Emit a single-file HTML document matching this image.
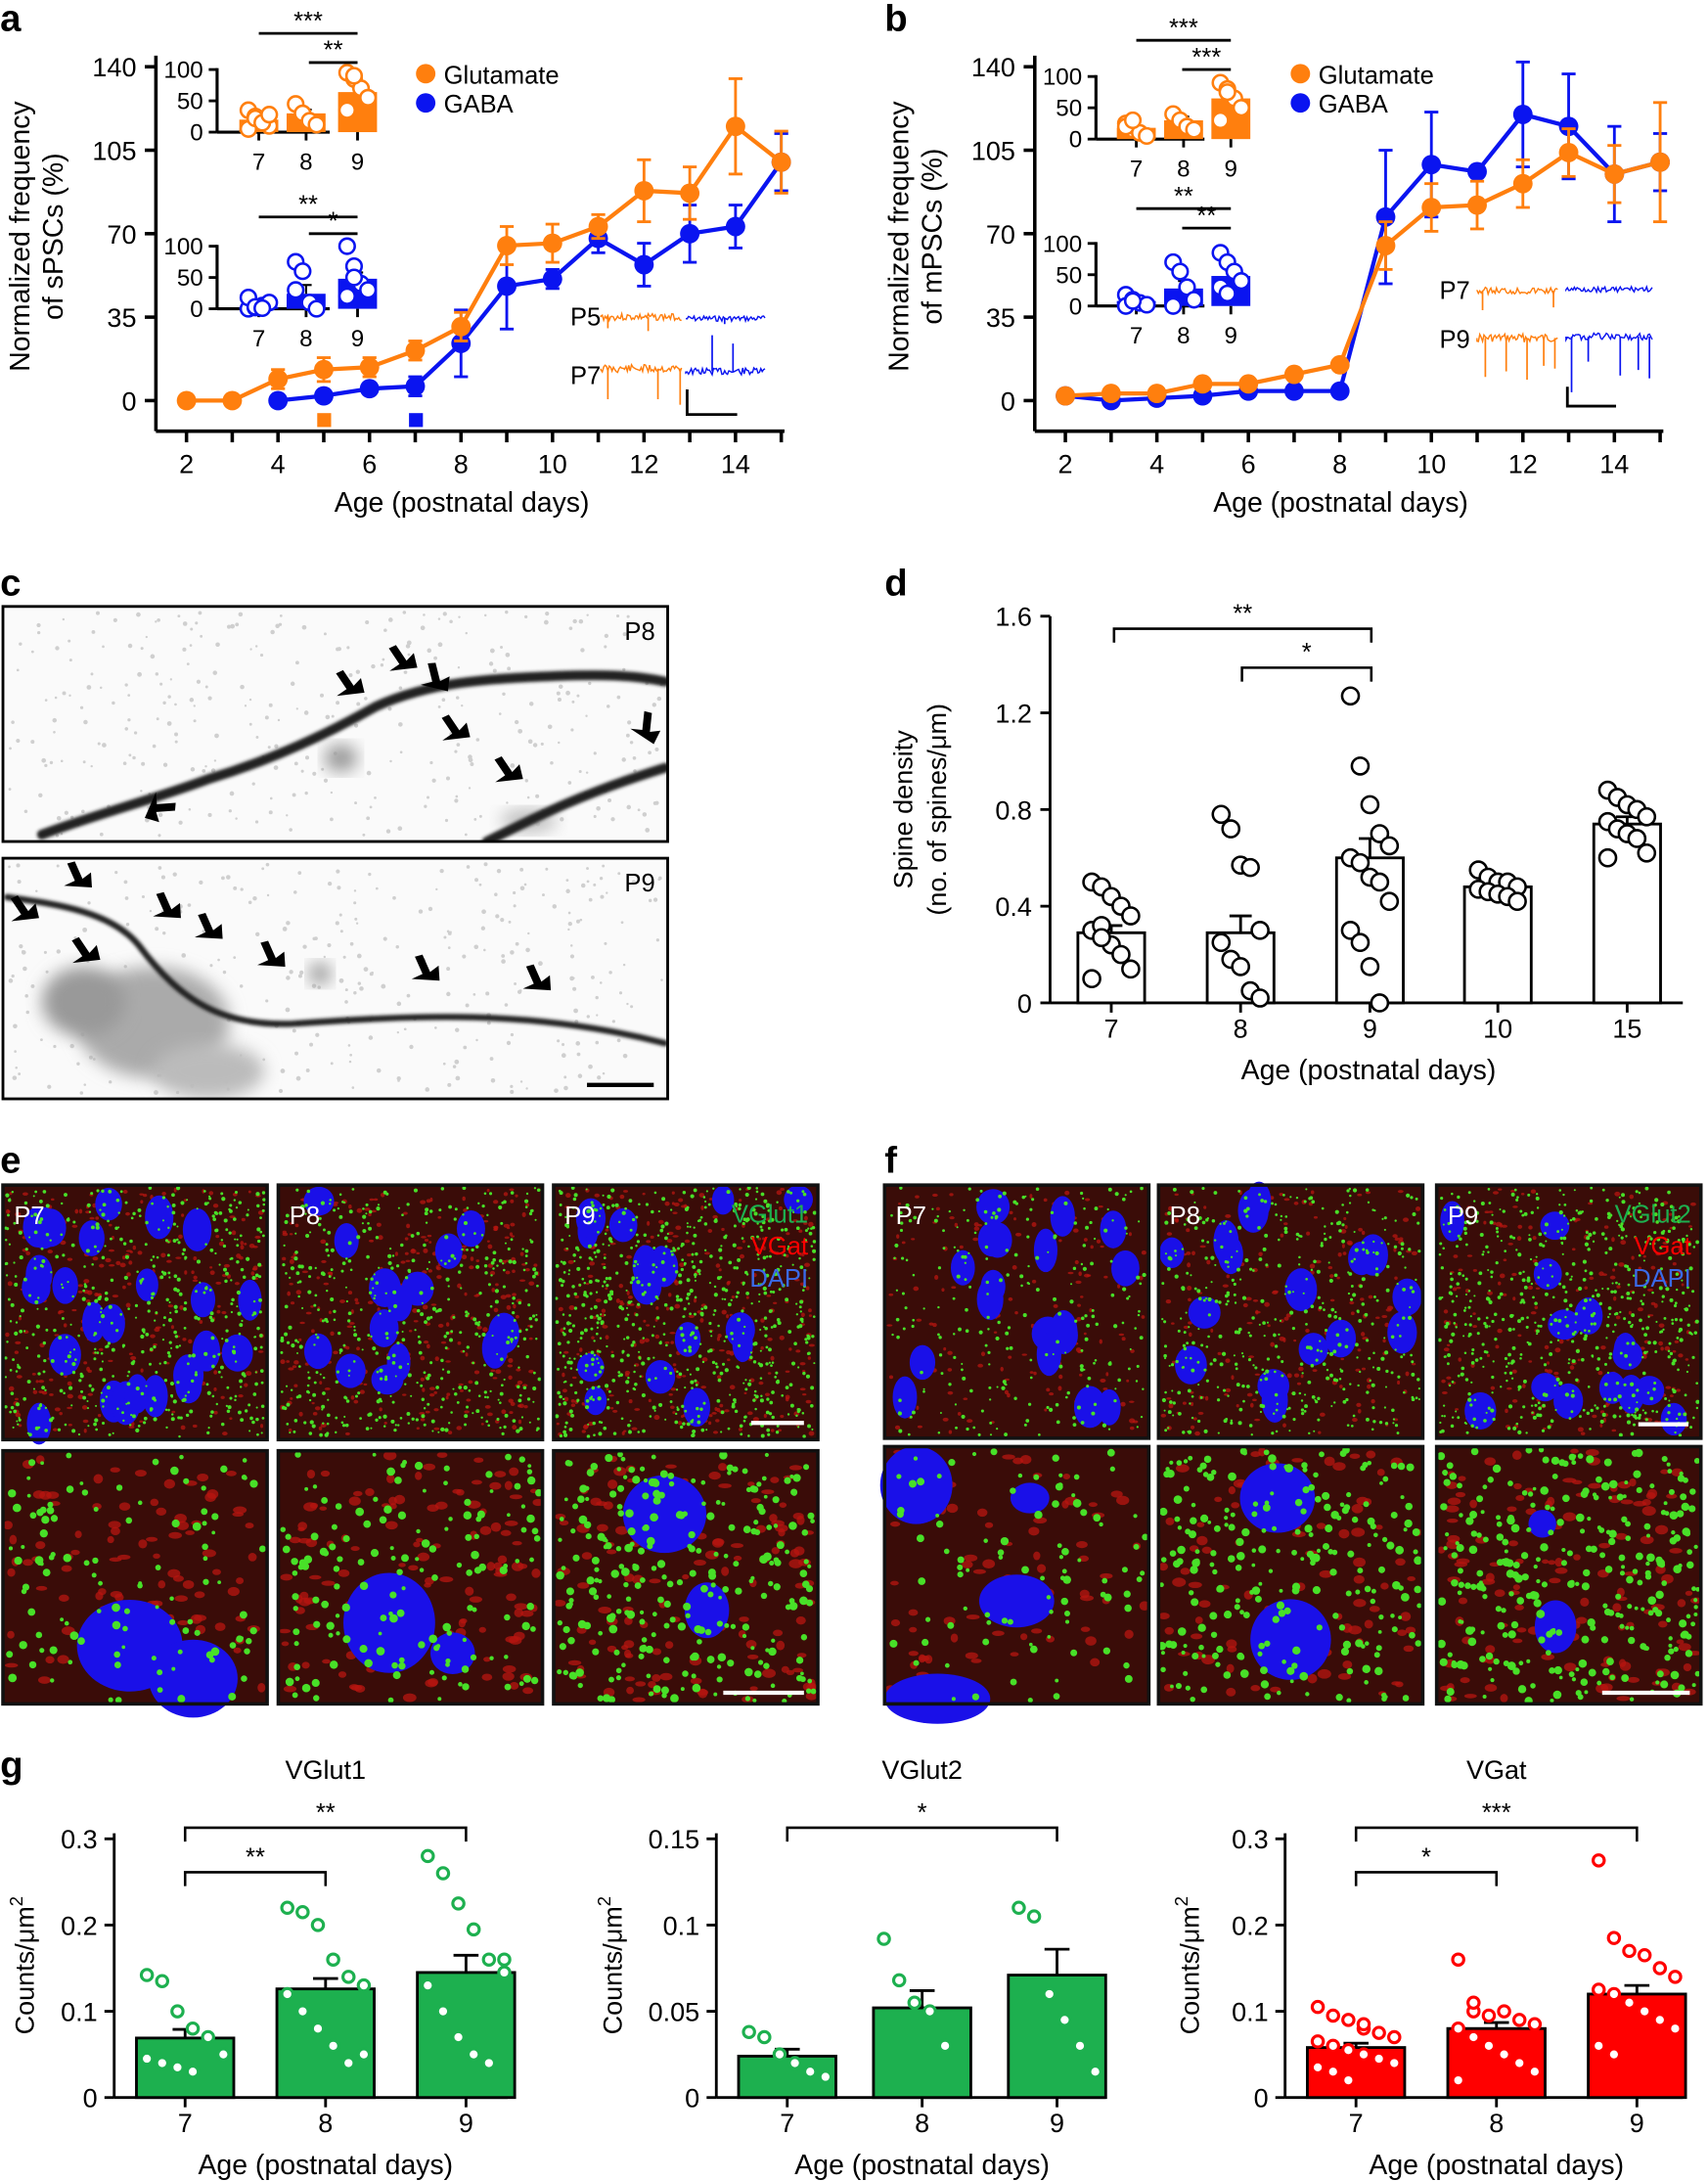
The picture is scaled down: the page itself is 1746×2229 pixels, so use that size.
<!DOCTYPE html>
<html><head><meta charset="utf-8"><style>
html,body{margin:0;padding:0;background:#fff}
svg{display:block}
text{font-family:"Liberation Sans",Arial,sans-serif}
</style></head><body>
<svg id="fig" xmlns="http://www.w3.org/2000/svg" width="1746" height="2229" viewBox="0 0 1228 1568">
<defs>
<filter id="blur1" x="-20%" y="-20%" width="140%" height="140%"><feGaussianBlur stdDeviation="1.2"/></filter>
<filter id="blur2" x="-20%" y="-20%" width="140%" height="140%"><feGaussianBlur stdDeviation="6"/></filter>
</defs>
<g font-weight="bold" font-size="27" fill="#000">
<text x="0" y="22">a</text>
<text x="636" y="22">b</text>
<text x="0" y="428">c</text>
<text x="636" y="428">d</text>
<text x="0" y="843">e</text>
<text x="636" y="843">f</text>
<text x="0" y="1278">g</text>
</g>
</svg>
<script>
// ---------- data ----------
const days = [2,3,4,5,6,7,8,9,10,11,12,13,14,15];
const aGlu = [0,0,9,13,14,21,31,65,66,73,88,87,115,100];
const aGluErr = [0,0,4,5,4,4,6,8,8,5,13,11,20,13];
const aGabaDays = [4,5,6,7,8,9,10,11,12,13,14,15];
const aGaba = [0,2,5,6,24,48,51,68,57,70,73,100];
const aGabaErr = [0,0,0,4,14,18,4,6,9,12,9,12];
const bGlu = [2,3,3,7,7,11,15,65,81,82,91,104,95,100];
const bGluErr = [0,0,0,2,1,1,2,10,10,10,10,10,12,25];
const bGabaDays = [2,3,4,5,6,7,8,9,10,11,12,13,14,15];
const bGaba = [2,0,1,2,4,4,4,77,99,96,120,115,95,100];
const bGabaErr = [0,0,0,0,0,0,0,28,22,0,22,22,20,12];
const yTicksA = [0,35,70,105,140];
const xTicksA = [2,4,6,8,10,12,14];
const insetCats = [7,8,9];
const insetTicks = [0,50,100];
const aInsGlu = [20,30,64]; const aInsGluErr=[4,6,8];
const aInsGluPts = [[35,25,18,10,5,22,15,28],[45,30,18,12],[95,85,70,55,35,90]];
const aInsGaba = [3,24,48]; const aInsGabaErr=[2,14,10];
const aInsGabaPts = [[0,2,5,10,18,3,1],[75,60,10,0,30],[100,68,40,30,20,50]];
const bInsGlu = [18,30,65]; const bInsGluErr=[4,6,8];
const bInsGluPts = [[25,15,10,5,20,30],[40,30,20,15],[90,80,65,50,30,75]];
const bInsGaba = [8,28,48]; const bInsGabaErr=[3,12,8];
const bInsGabaPts = [[18,10,5,2,0,8],[70,55,30,10,0],[85,70,55,40,30,20]];
const dCats = ['7','8','9','10','15'];
const dMeans = [0.29,0.29,0.60,0.48,0.74];
const dErr = [0.03,0.07,0.08,0.02,0.03];
const dPts = [[0.5,0.48,0.44,0.4,0.36,0.3,0.32,0.24,0.2,0.14,0.1,0.27],[0.78,0.72,0.57,0.56,0.3,0.25,0.18,0.15,0.05,0.02],[1.27,0.98,0.82,0.7,0.65,0.6,0.58,0.52,0.5,0.42,0.3,0.25,0.15,0.0],[0.55,0.52,0.5,0.5,0.48,0.47,0.46,0.45,0.44,0.42],[0.88,0.85,0.82,0.8,0.77,0.75,0.72,0.7,0.68,0.62,0.6]];
const dTicks = [0,0.4,0.8,1.2,1.6];
const gCats = ['7','8','9'];
const g1Means=[0.069,0.126,0.145], g1Err=[0.01,0.012,0.02];
const g1Pts=[[0.142,0.135,0.1,0.08,0.07,0.05,0.045,0.04,0.035,0.03],[0.22,0.215,0.2,0.16,0.14,0.13,0.12,0.1,0.08,0.06,0.04,0.05],[0.28,0.26,0.225,0.195,0.16,0.145,0.13,0.1,0.07,0.05,0.04,0.16]];
const g2Means=[0.024,0.052,0.071], g2Err=[0.004,0.01,0.015];
const g2Pts=[[0.038,0.035,0.025,0.02,0.015,0.012],[0.092,0.068,0.055,0.05,0.03],[0.11,0.105,0.06,0.045,0.03,0.015]];
const g3Means=[0.058,0.08,0.12], g3Err=[0.005,0.007,0.01];
const g3Pts=[[0.105,0.095,0.09,0.08,0.075,0.07,0.065,0.06,0.055,0.05,0.045,0.04,0.035,0.03,0.02,0.085],[0.16,0.1,0.095,0.1,0.09,0.085,0.08,0.07,0.06,0.05,0.04,0.03,0.02,0.11],[0.275,0.185,0.17,0.165,0.15,0.14,0.125,0.12,0.11,0.1,0.09,0.08,0.06,0.05]];
const g1Ticks=[0,0.1,0.2,0.3], g2Ticks=[0,0.05,0.1,0.15];
const g2TickLbl=['0','0.05','0.1','0.15'];

const OR='#ff7f0e', BL='#0a14f0', GR='#1db04f', RD='#ff0000';
const svg=document.getElementById('fig');
const NS='http://www.w3.org/2000/svg';
function mk(tag,attrs,parent,txt){const e=document.createElementNS(NS,tag);for(const k in attrs)e.setAttribute(k,attrs[k]);if(txt!==undefined)e.textContent=txt;(parent||svg).appendChild(e);return e;}
function grp(name){const g=mk('g',{});return g;}
function line(p,x1,y1,x2,y2,c,w,name){const e=mk('line',{x1,y1,x2,y2,stroke:c||'#000','stroke-width':w||2},p);

return e;}
function txt(p,x,y,s,size,anchor,name,fill){const e=mk('text',{x,y,'font-size':size,'text-anchor':anchor||'middle',fill:fill||'#000'},p,s);

return e;}

// ---------- line chart a/b ----------
function lineChart(name,X0,gluX,glu,gluE,gabaX,gaba,gabaE,legendX,title){
  const g=grp(name);
  const sx=d=>X0+(d-2)*32.9, sy=v=>288-v*60/35;
  line(g,X0-22,310,X0-22+452,310,'#000',2.5,'x-axis');
  line(g,X0-22,40,X0-22,310,'#000',2.5,'y-axis');
  yTicksA.forEach(t=>{line(g,X0-30,sy(t),X0-22,sy(t),'#000',2.5,'y-tick');txt(g,X0-36,sy(t)+7,String(t),19,'end','y-tick-label');});
  for(let d=2;d<=15;d++){line(g,sx(d),310,sx(d),318,'#000',2.5,'x-tick');}
  xTicksA.forEach(t=>txt(g,sx(t),340,String(t),19,'middle','x-tick-label'));
  txt(g,X0+198,368,'Age (postnatal days)',20,'middle','x-axis-title');
  const yt=txt(g,0,0,'Normalized frequency',20,'middle','y-axis-title');yt.setAttribute('transform',`translate(${X0-113},170) rotate(-90)`);
  const yt2=txt(g,0,0,title,20,'middle','y-axis-title-2');yt2.setAttribute('transform',`translate(${X0-89},170) rotate(-90)`);
  function series(xs,vals,errs,c,nm){
    xs.forEach((d,i)=>{if(errs[i]>0){const x=sx(d);line(g,x,sy(vals[i]-errs[i]),x,sy(vals[i]+errs[i]),c,2,nm+'-errorbar');line(g,x-5,sy(vals[i]+errs[i]),x+5,sy(vals[i]+errs[i]),c,2,nm+'-errorcap');line(g,x-5,sy(vals[i]-errs[i]),x+5,sy(vals[i]-errs[i]),c,2,nm+'-errorcap');}});
    const pl=mk('polyline',{points:xs.map((d,i)=>sx(d)+','+sy(vals[i])).join(' '),fill:'none',stroke:c,'stroke-width':3},g);
    
    
    xs.forEach((d,i)=>{const c1=mk('circle',{cx:sx(d),cy:sy(vals[i]),r:7,fill:c},g);
      
      });
  }
  series(gabaX,gaba,gabaE,BL,'gaba');
  series(gluX,glu,gluE,OR,'glutamate');
  const l1=mk('circle',{cx:legendX,cy:53,r:7,fill:OR},g);
  
  
  txt(g,legendX+13,60,'Glutamate',18,'start','legend-glutamate');
  const l2=mk('circle',{cx:legendX,cy:74,r:7,fill:BL},g);
  
  
  txt(g,legendX+13,81,'GABA',18,'start','legend-gaba');
  return {g,sx,sy};
}
function inset(p,name,ax,y0,vals,errs,pts,c,cx){
  const g=mk('g',{},p);
  const sy=v=>y0-v*0.45;
  line(g,ax,y0-46,ax,y0,'#000',2.2,'inset-y-axis');line(g,ax,y0,ax+82+(cx[2]-cx[0]-72),y0,'#000',2.2,'inset-x-axis');
  insetTicks.forEach(t=>{line(g,ax-6,sy(t),ax,sy(t),'#000',2,'inset-y-tick');txt(g,ax-10,sy(t)+6,String(t),17,'end','inset-y-tick-label');});
  insetCats.forEach((k,i)=>{
    const r=mk('rect',{x:cx[i]-14,y:sy(vals[i]),width:28,height:y0-sy(vals[i]),fill:c},g);
    
    
    line(g,cx[i],sy(vals[i]),cx[i],sy(vals[i]+errs[i]),'#000',1.5,'inset-errorbar');line(g,cx[i]-4,sy(vals[i]+errs[i]),cx[i]+4,sy(vals[i]+errs[i]),'#000',1.5,'inset-errorcap');
    line(g,cx[i],y0,cx[i],y0+6,'#000',2,'inset-x-tick');
    txt(g,cx[i],y0+27,String(k),17,'middle','inset-x-tick-label');
    pts[i].forEach((v,j)=>{const o=mk('circle',{cx:cx[i]+((j%4)-1.5)*5,cy:sy(v),r:5.5,fill:'#fff',stroke:c,'stroke-width':1.8},g);
      
      });
  });
}
function sig(p,x1,x2,y,s,size){line(p,x1,y,x2,y,'#000',2,'significance-bar');txt(p,(x1+x2)/2,y-3,s,size||18,'middle','significance-stars');}
function sigBracket(p,x1,x2,y,s){const pl=mk('polyline',{points:`${x1},${y+10} ${x1},${y} ${x2},${y} ${x2},${y+10}`,fill:'none',stroke:'#000','stroke-width':1.8},p);
  
  
  txt(p,(x1+x2)/2,y-5,s,18,'middle','significance-stars');}
function trace(p,x1,x2,y,c,amp,spikes,seed,name){let s=seed;const rnd=()=>{s=(s*9301+49297)%233280;return s/233280;};
  let d=`M${x1},${y}`;for(let x=x1;x<=x2;x+=1){let yy=y+(rnd()-0.5)*amp;d+=` L${x},${yy.toFixed(1)}`;}
  const e=mk('path',{d,fill:'none',stroke:c,'stroke-width':1},p);
  
  
  spikes.forEach(sp=>line(p,sp[0],y,sp[0],y+sp[1],c,1.2,name+'-event'));}

const A=lineChart('panel-a-frequency-chart',134,days,aGlu,aGluErr,aGabaDays,aGaba,aGabaErr,306,'of sPSCs (%)');
inset(A.g,'panel-a-inset-glutamate',156,95,aInsGlu,aInsGluErr,aInsGluPts,OR,[186,220,257]);
inset(A.g,'panel-a-inset-gaba',156,222,aInsGaba,aInsGabaErr,aInsGabaPts,BL,[186,220,257]);
sig(A.g,186,257,24,'***');sig(A.g,222,257,45,'**');sig(A.g,186,257,156,'**');sig(A.g,222,257,168,'*');
{const r=mk('rect',{x:228,y:297,width:10,height:10,fill:OR},A.g);
 const r2=mk('rect',{x:294,y:297,width:10,height:10,fill:BL},A.g);}
txt(A.g,410,234,'P5',18,'start','trace-label-p5');txt(A.g,410,276,'P7',18,'start','trace-label-p7');
trace(A.g,432,490,228,OR,5,[[437,8],[466,10]],3,'trace-p5-glutamate');
trace(A.g,493,550,229,BL,4,[[521,4]],7,'trace-p5-gaba');
trace(A.g,432,490,265,OR,6,[[437,22],[473,22],[489,26]],11,'trace-p7-glutamate');
trace(A.g,493,550,267,BL,5,[[512,-26],[527,-20]],13,'trace-p7-gaba');
{const pl=mk('polyline',{points:'494,280 494,298 530,298',fill:'none',stroke:'#000','stroke-width':2},A.g);}

const B=lineChart('panel-b-frequency-chart',766,days,bGlu,bGluErr,bGabaDays,bGaba,bGabaErr,935,'of mPSCs (%)');
inset(B.g,'panel-b-inset-glutamate',788,100,bInsGlu,bInsGluErr,bInsGluPts,OR,[817,851,885]);
inset(B.g,'panel-b-inset-gaba',788,220,bInsGaba,bInsGabaErr,bInsGabaPts,BL,[817,851,885]);
sig(B.g,817,885,29,'***');sig(B.g,850,885,50,'***');sig(B.g,817,885,150,'**');sig(B.g,850,885,164,'**');
txt(B.g,1035,215,'P7',18,'start','trace-label-p7');txt(B.g,1035,250,'P9',18,'start','trace-label-p9');
trace(B.g,1062,1120,209,OR,5,[[1066,14],[1117,12]],5,'trace-p7-glutamate');
trace(B.g,1126,1188,208,BL,4,[],9,'trace-p7-gaba');
trace(B.g,1062,1120,243,OR,6,[[1068,28],[1083,24],[1098,30],[1110,20],[1118,22]],17,'trace-p9-glutamate');
trace(B.g,1126,1188,242,BL,5,[[1130,40],[1142,18],[1165,28],[1178,24],[1186,30]],19,'trace-p9-gaba');
{const pl=mk('polyline',{points:'1127,278 1127,292 1162,292',fill:'none',stroke:'#000','stroke-width':2},B.g);}

// ---------- panel c images ----------
function dendriteImg(name,x,y,w,h,blobs,paths,arrows,lbl,scale){
  const g=grp(name);
  const cp=mk('clipPath',{id:'clip'+y},g);
  mk('rect',{x,y,width:w,height:h},cp);
  const r=mk('rect',{x,y,width:w,height:h,fill:'#fafafa'},g);
  
  const inner=mk('g',{'clip-path':`url(#clip${y})`},g);
  let s=x*7+y;const rnd=()=>{s=(s*9301+49297)%233280;return s/233280;};
  for(let i=0;i<320;i++){const c=mk('circle',{cx:x+4+rnd()*(w-8),cy:y+4+rnd()*(h-8),r:0.8+rnd()*0.9,fill:'#cfcfcf'},inner);}
  blobs.forEach(b=>{const e=mk('ellipse',{cx:b[0],cy:b[1],rx:b[2],ry:b[3],fill:b[4],filter:'url(#blur2)'},inner);});
  paths.forEach(p=>{const e=mk('path',{d:p[0],fill:'none',stroke:p[2]||'#222','stroke-width':p[1],'stroke-linecap':'round',filter:'url(#blur1)'},inner);});
  arrows.forEach(a=>{const e=mk('path',{d:'M0,0 L18,-9 L13,-2 L24,6 L20,10 L9,2 L6,9 Z',fill:'#000',transform:`translate(${a[0]},${a[1]}) rotate(${a[2]})`},g);});
  const fr=mk('rect',{x,y,width:w,height:h,fill:'none',stroke:'#000','stroke-width':2},g);
  
  txt(g,x+w-9,y+24,lbl,18,'end','age-label');
  if(scale){line(g,x+w-58,y+h-10,x+w-10,y+h-10,'#000',3,'scale-bar');}
}
dendriteImg('panel-c-image-p8',2,436,478,169,[[245,545,12,10,'#999'],[380,590,20,8,'#bbb']],
 [['M30,600 C70,585 110,575 150,560 C200,545 240,525 270,508 C310,490 350,488 400,486 C430,485 455,485 478,490',7],['M350,605 C390,585 420,570 478,552',7]],
 [[262,498,-160],[322,497,-140],[300,480,200],[338,530,-160],[376,560,-160],[470,535,-120],[104,588,-40]],'P8',false);
dendriteImg('panel-c-image-p9',2,617,478,173,[[110,735,55,40,'#aaa'],[60,720,30,25,'#999'],[150,770,40,20,'#bbb'],[230,700,8,8,'#999']],
 [['M5,645 C40,650 80,655 100,680 C130,720 160,738 210,736 C300,730 380,725 478,750',4.5]],
 [[28,660,-160],[66,638,-150],[72,690,-160],[130,660,-150],[160,675,-150],[205,695,-150],[316,705,-150],[396,712,-150]],'P9',true);

// ---------- panels e/f microscopy ----------
function micro(name,x,y,w,h,seed,nuclei,greenN,redN,big,lbl){
  const g=grp(name);
  const r=mk('rect',{x,y,width:w,height:h,fill:'#3a0c08'},g);
  
  let s=seed;const rnd=()=>{s=(s*9301+49297)%233280;return s/233280;};
  for(let i=0;i<redN;i++){const e=mk('ellipse',{cx:x+3+rnd()*(w-6),cy:y+3+rnd()*(h-6),rx:(big?2.5:1)+rnd()*(big?2.5:1.2),ry:(big?1.5:0.8)+rnd()*(big?2:1),fill:'#b81510',opacity:0.75},g);}
  nuclei.forEach(n=>{const e=mk('ellipse',{cx:x+n[0]*w,cy:y+n[1]*h,rx:n[2],ry:n[3],fill:'#1a10e8'},g);});
  for(let i=0;i<greenN;i++){const e=mk('circle',{cx:x+2+rnd()*(w-4),cy:y+2+rnd()*(h-4),r:(big?1.3:0.7)+rnd()*(big?1.8:0.8),fill:'#48e028'},g);}
  const fr=mk('rect',{x,y,width:w,height:h,fill:'none',stroke:'#111','stroke-width':2.5},g);
  
  if(lbl)txt(g,x+8,y+28,lbl,18,'start','age-label','#fff');
  return g;
}
function nucs(seed,n,rx,ry){let s=seed;const rnd=()=>{s=(s*9301+49297)%233280;return s/233280;};const a=[];for(let i=0;i<n;i++)a.push([0.05+rnd()*0.9,0.05+rnd()*0.9,rx+rnd()*4,ry+rnd()*5]);return a;}
const eX=[2,200,398], fX=[636,833,1033];
micro('panel-e-p7-overview',eX[0],852,190,183,11,nucs(5,26,8,11),520,260,false,'P7');
micro('panel-e-p8-overview',eX[1],852,190,183,21,nucs(8,14,8,10),480,300,false,'P8');
const e9=micro('panel-e-p9-overview',eX[2],852,190,183,31,nucs(13,16,7,10),700,300,false,'P9');
txt(e9,581,879,'VGlut1',18,'end','legend-vglut1',GR);txt(e9,581,902,'VGat',18,'end','legend-vgat',RD);txt(e9,581,925,'DAPI',18,'end','legend-dapi','#3a6ae8');
line(e9,540,1023,578,1023,'#fff',3,'scale-bar');
micro('panel-e-p7-zoom',eX[0],1043,190,182,41,[[0.48,0.77,38,33],[0.72,0.9,32,28]],110,110,true);
micro('panel-e-p8-zoom',eX[1],1043,190,182,51,[[0.42,0.68,33,36],[0.66,0.8,16,15]],150,130,true);
const e9z=micro('panel-e-p9-zoom',eX[2],1043,190,182,61,[[0.42,0.25,30,28],[0.58,0.63,16,20]],260,130,true);
line(e9z,520,1217,578,1217,'#fff',3,'scale-bar');
micro('panel-f-p7-overview',fX[0],852,190,182,71,nucs(17,18,8,11),240,140,false,'P7');
micro('panel-f-p8-overview',fX[1],852,190,182,81,nucs(19,16,8,11),440,200,false,'P8');
const f9=micro('panel-f-p9-overview',fX[2],852,190,182,91,nucs(23,14,8,10),600,200,false,'P9');
txt(f9,1216,879,'VGlut2',18,'end','legend-vglut2',GR);txt(f9,1216,902,'VGat',18,'end','legend-vgat',RD);txt(f9,1216,925,'DAPI',18,'end','legend-dapi','#3a6ae8');
line(f9,1178,1024,1214,1024,'#fff',3,'scale-bar');
micro('panel-f-p7-zoom',fX[0],1040,190,185,101,[[0.12,0.15,26,28],[0.55,0.2,14,11],[0.5,0.6,27,19],[0.2,0.98,38,18]],90,70,true);
micro('panel-f-p8-zoom',fX[1],1040,190,185,111,[[0.45,0.2,27,25],[0.5,0.75,29,29]],230,90,true);
const f9z=micro('panel-f-p9-zoom',fX[2],1040,190,185,121,[[0.45,0.7,15,19],[0.4,0.3,10,10]],290,130,true);
line(f9z,1152,1217,1215,1217,'#fff',3,'scale-bar');

// ---------- panel d ----------
{const g=grp('panel-d-spine-density-chart');
 const X=[799,892,985,1077,1170], sy=v=>721-v*173.75;
 line(g,755,721,1210,721,'#000',2,'x-axis');line(g,755,443,755,721,'#000',2,'y-axis');
 dTicks.forEach(t=>{line(g,748,sy(t),755,sy(t),'#000',2,'y-tick');txt(g,742,sy(t)+7,String(t),19,'end','y-tick-label');});
 dCats.forEach((c,i)=>{
   const r=mk('rect',{x:X[i]-24,y:sy(dMeans[i]),width:48,height:721-sy(dMeans[i]),fill:'#fff',stroke:'#000','stroke-width':2},g);
   
   line(g,X[i],sy(dMeans[i]),X[i],sy(dMeans[i]+dErr[i]),'#000',2,'errorbar');line(g,X[i]-8,sy(dMeans[i]+dErr[i]),X[i]+8,sy(dMeans[i]+dErr[i]),'#000',2,'errorcap');
   line(g,X[i],721,X[i],728,'#000',2,'x-tick');txt(g,X[i],746,c,19,'middle','x-tick-label');
   dPts[i].forEach((v,j)=>{const o=mk('circle',{cx:X[i]+((j%5)-2)*7,cy:sy(v),r:6,fill:'#fff',stroke:'#000','stroke-width':1.8},g);});
 });
 txt(g,984,776,'Age (postnatal days)',20,'middle','x-axis-title');
 const a=txt(g,0,0,'Spine density',19,'middle','y-axis-title');a.setAttribute('transform','translate(656,582) rotate(-90)');
 const b=txt(g,0,0,'(no. of spines/\u03bcm)',19,'middle','y-axis-title-2');b.setAttribute('transform','translate(680,582) rotate(-90)');
 sigBracket(g,801,986,452,'**');sigBracket(g,893,986,480,'*');
}

// ---------- panel g ----------
function gChart(name,title,X,ax0,ax1,maxV,ticks,tickLbl,means,errs,pts,col,sigs,ylx){
  const g=grp(name);
  const sy=v=>1508-v*(186/maxV);
  txt(g,(X[0]+X[2])/2,1279,title,19,'middle','chart-title');
  line(g,ax0,1508,ax1,1508,'#000',2,'x-axis');line(g,ax0,1318,ax0,1508,'#000',2,'y-axis');
  ticks.forEach((t,i)=>{line(g,ax0-7,sy(t),ax0,sy(t),'#000',2,'y-tick');txt(g,ax0-12,sy(t)+7,tickLbl[i],19,'end','y-tick-label');});
  gCats.forEach((c,i)=>{
    const r=mk('rect',{x:X[i]-35,y:sy(means[i]),width:70,height:1508-sy(means[i]),fill:col,stroke:'#000','stroke-width':2},g);
    
    line(g,X[i],sy(means[i]),X[i],sy(means[i]+errs[i]),'#000',2,'errorbar');line(g,X[i]-9,sy(means[i]+errs[i]),X[i]+9,sy(means[i]+errs[i]),'#000',2,'errorcap');
    line(g,X[i],1508,X[i],1515,'#000',2,'x-tick');txt(g,X[i],1533,c,19,'middle','x-tick-label');
    pts[i].forEach((v,j)=>{const o=mk('circle',{cx:X[i]+((j%6)-2.5)*11,cy:sy(v),r:4,fill:'#fff',stroke:col,'stroke-width':2.2},g);});
  });
  txt(g,X[1],1563,'Age (postnatal days)',20,'middle','x-axis-title');
  const yl=mk('text',{'font-size':19,'text-anchor':'middle',transform:`translate(${ylx},1413) rotate(-90)`},g);
  
  yl.textContent='Counts/\u03bcm';const sup=mk('tspan',{'font-size':13,dy:-8},yl,'2');
  
  sigs.forEach(s=>sigBracket(g,X[s[0]],X[s[1]],s[2],s[3]));
}
gChart('panel-g-vglut1-chart','VGlut1',[133,234,335],82,365,0.3,g1Ticks,['0','0.1','0.2','0.3'],g1Means,g1Err,g1Pts,GR,[[0,1,1346,'**'],[0,2,1314,'**']],24);
gChart('panel-g-vglut2-chart','VGlut2',[566,663,760],515,795,0.15,g2Ticks,g2TickLbl,g2Means,g2Err,g2Pts,GR,[[0,2,1314,'*']],447);
gChart('panel-g-vgat-chart','VGat',[975,1076,1177],924,1210,0.3,g1Ticks,['0','0.1','0.2','0.3'],g3Means,g3Err,g3Pts,RD,[[0,1,1346,'*'],[0,2,1314,'***']],862);
</script>
</body></html>
